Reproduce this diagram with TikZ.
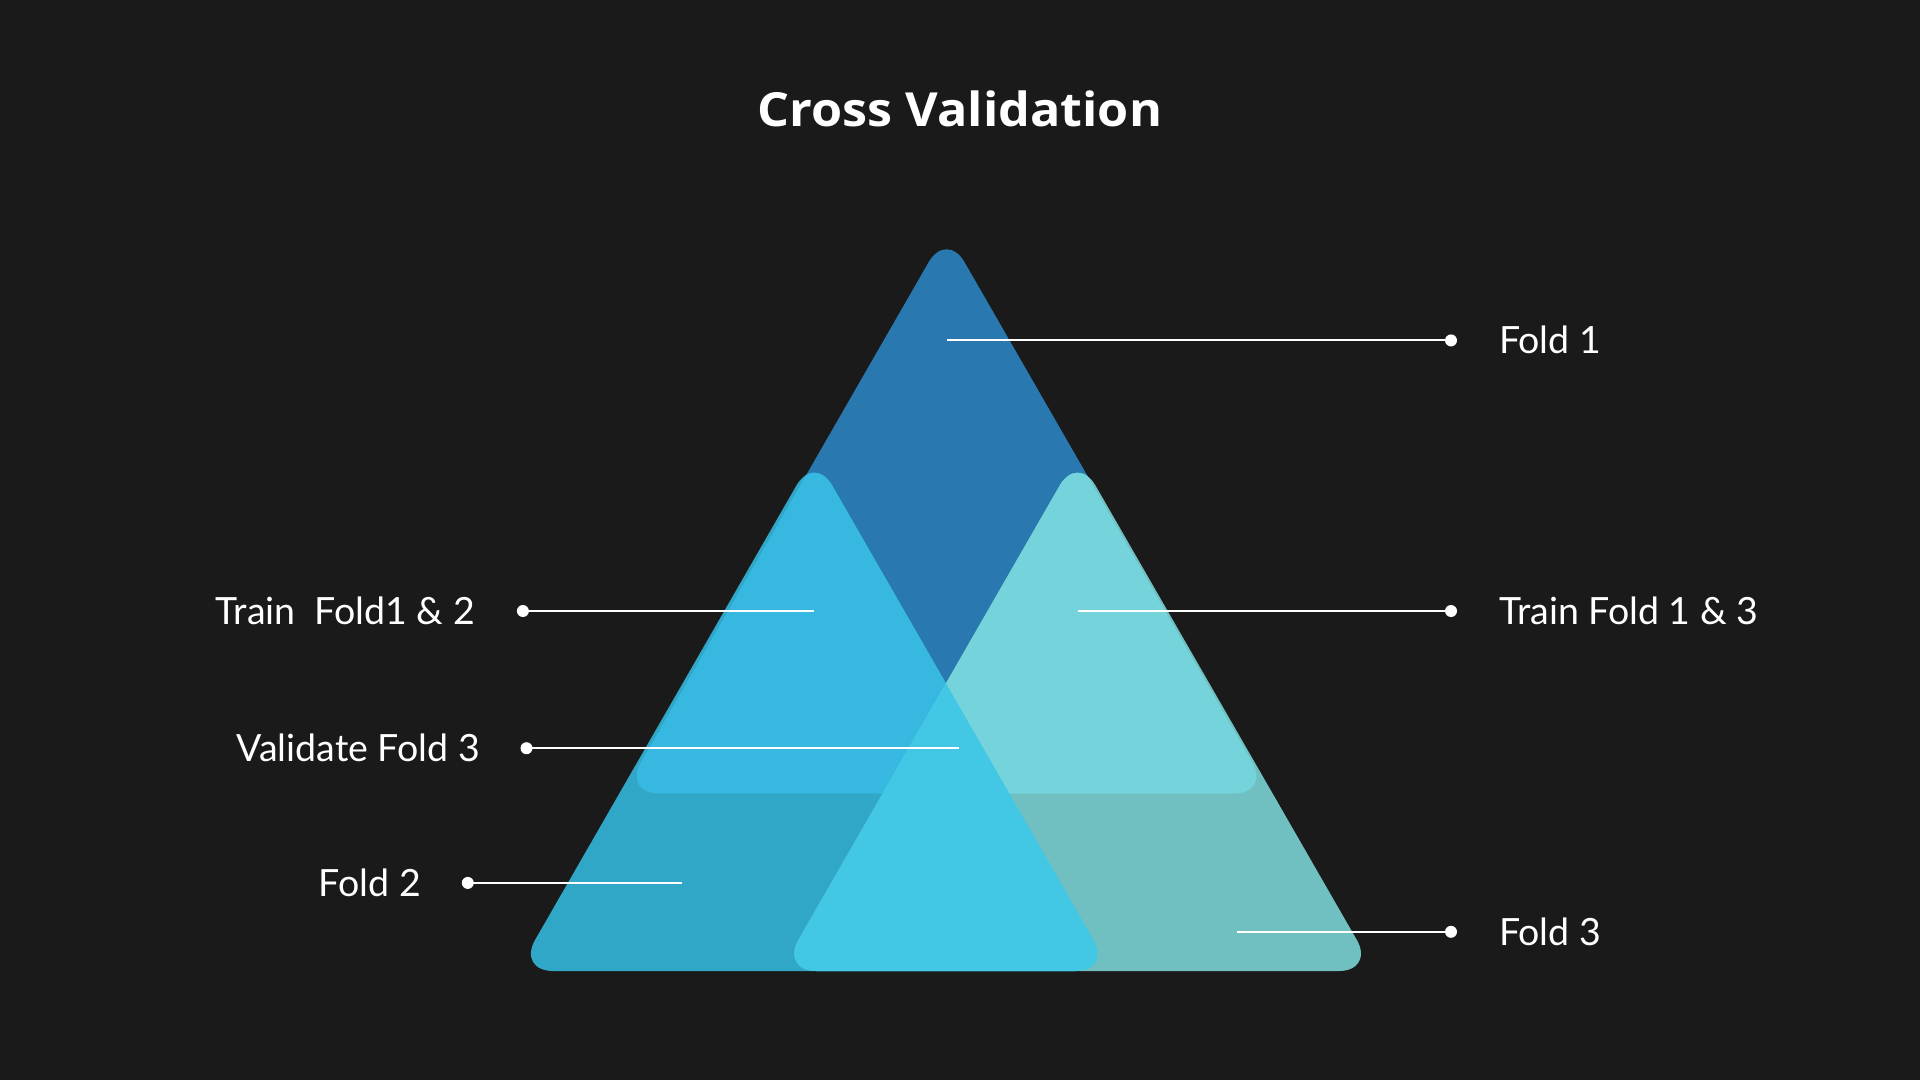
\documentclass[tikz,border=0pt]{standalone}
\usepackage{fontspec}
\setmainfont{Lato}
\newfontfamily\titlefont{Open Sans}[FakeStretch=1.07]
\definecolor{bgc}{HTML}{1A1A1A}
\definecolor{cbig}{HTML}{2979B0}
\definecolor{cleft}{HTML}{30A7C7}
\definecolor{cright}{HTML}{70C0C1}
\definecolor{cleftbig}{HTML}{36B8E1}
\definecolor{crightbig}{HTML}{74D3DB}
\definecolor{cmid}{HTML}{42C7E5}
\newcommand{\bigtri}{(623,793.5) -- (946.6,231) -- (1270.2,793.5) -- cycle}
\newcommand{\lefttri}{(517.2,971) -- (814.3,454.4) -- (1111.4,971) -- cycle}
\newcommand{\righttri}{(780.5,971) -- (1077.6,454.4) -- (1374.7,971) -- cycle}
\begin{document}
\begin{tikzpicture}[x=1pt,y=-1pt,
  tri/.style={rounded corners=36pt},
  dotnode/.style={circle, fill=white, inner sep=0pt, minimum size=12pt},
  conn/.style={draw=white, line width=2pt},
  lbl/.style={text=white, inner sep=0pt, font=\fontsize{37.5}{42}\selectfont},
  ttl/.style={text=white, inner sep=0pt, font=\titlefont\bfseries\fontsize{47}{52}\selectfont}]
\fill[bgc] (0,0) rectangle (1920,1080);
\useasboundingbox (0,0) rectangle (1920,1080);
% triangles
\fill[cbig,tri] \bigtri;
\fill[cleft,tri] \lefttri;
\fill[cright,tri] \righttri;
\begin{scope}
  \clip[tri] \bigtri;
  \fill[cleftbig,tri] \lefttri;
  \fill[crightbig,tri] \righttri;
\end{scope}
\begin{scope}
  \clip[tri] \lefttri;
  \fill[cmid,tri] \righttri;
\end{scope}
% title
\node[ttl, anchor=base] (title) at (960,126) {Cross Validation};
% Fold 1
\coordinate (f1s) at (946.6,340.4);
\node[dotnode] (f1d) at (1451,340.4) {};
\draw[conn] (f1s) -- (f1d.center);
\node[lbl, anchor=base west] (f1t) at (1498.8,353.8) {Fold 1};
% Train Fold1 & 2
\coordinate (t12s) at (814.3,611);
\node[dotnode] (t12d) at (522.9,611) {};
\draw[conn] (t12s) -- (t12d.center);
\node[lbl, anchor=base east] (t12t) at (475,624.4) {Train~~Fold1 \& 2};
% Train Fold 1 & 3
\coordinate (t13s) at (1077.6,611);
\node[dotnode] (t13d) at (1451,611) {};
\draw[conn] (t13s) -- (t13d.center);
\node[lbl, anchor=base west] (t13t) at (1498.8,624.4) {Train Fold 1 \& 3};
% Validate Fold 3
\coordinate (v3s) at (958.8,748.2);
\node[dotnode] (v3d) at (526.5,748.2) {};
\draw[conn] (v3s) -- (v3d.center);
\node[lbl, anchor=base east] (v3t) at (480,761.6) {Validate Fold 3};
% Fold 2
\coordinate (f2s) at (682,882.9);
\node[dotnode] (f2d) at (467.8,882.9) {};
\draw[conn] (f2s) -- (f2d.center);
\node[lbl, anchor=base east] (f2t) at (421,896.3) {Fold 2};
% Fold 3
\coordinate (f3s) at (1236.7,931.8);
\node[dotnode] (f3d) at (1451,931.8) {};
\draw[conn] (f3s) -- (f3d.center);
\node[lbl, anchor=base west] (f3t) at (1498.8,945.2) {Fold 3};
\end{tikzpicture}
\end{document}
